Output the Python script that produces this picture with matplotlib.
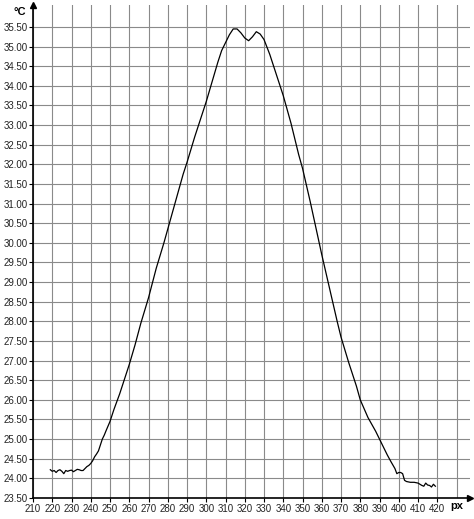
import matplotlib
matplotlib.use("Agg")
import matplotlib.pyplot as plt
import numpy as np

px = [219,220,221,222,223,224,225,226,227,228,229,230,231,232,233,234,235,236,237,238,239,240,241,242,243,244,245,246,247,248,250,252,255,258,260,263,266,270,274,278,280,284,288,290,294,298,300,303,306,308,310,312,314,316,318,320,322,324,326,328,330,333,336,340,344,348,350,354,358,360,364,368,370,374,378,380,384,388,390,392,394,396,398,399,400,401,402,403,404,406,408,410,411,412,413,414,415,416,417,418,419]
temp = [24.22,24.18,24.2,24.15,24.2,24.22,24.18,24.12,24.2,24.18,24.2,24.21,24.17,24.2,24.23,24.22,24.2,24.2,24.25,24.3,24.33,24.38,24.45,24.55,24.62,24.7,24.85,25.0,25.1,25.22,25.45,25.75,26.15,26.6,26.9,27.4,27.95,28.6,29.35,30.0,30.35,31.05,31.75,32.05,32.7,33.3,33.6,34.1,34.6,34.9,35.1,35.3,35.45,35.45,35.35,35.22,35.15,35.25,35.38,35.32,35.18,34.8,34.35,33.75,33.05,32.25,31.9,31.05,30.15,29.7,28.85,28.0,27.6,26.95,26.35,26.0,25.55,25.2,25.0,24.8,24.6,24.42,24.25,24.12,24.15,24.15,24.12,23.95,23.92,23.9,23.9,23.88,23.85,23.82,23.8,23.88,23.83,23.82,23.78,23.85,23.8]

xticks = list(range(210, 421, 10))
yticks = [23.5 + 0.5*i for i in range(25)]

fig = plt.figure(figsize=(4.74, 5.19), dpi=100)
ax = fig.add_axes([33/474, 21/519, 437/474, 493/519])
ax.plot(px, temp, color="black", lw=0.9, zorder=3)
ax.set_xlim(210, 437)
ax.set_ylim(23.5, 36.06)
ax.set_xticks(xticks)
ax.set_xticks(xticks + [430], minor=True)
ax.set_yticks(yticks)
ax.set_xticklabels([str(v) for v in xticks], fontsize=7, family="Liberation Sans", color="#222222")
ax.set_yticklabels([f"{v:.2f}" for v in yticks], fontsize=7, family="Liberation Sans", color="#222222")
ax.grid(True, which="both", color="#8a8a8a", lw=0.8)
ax.tick_params(length=3, width=0.8, pad=1, which="both")
ax.tick_params(which="minor", length=0)
for s in ["top", "right"]:
    ax.spines[s].set_visible(False)
for s in ["left", "bottom"]:
    ax.spines[s].set_linewidth(1.2)
ax.plot(1, 0, ">k", transform=ax.transAxes, clip_on=False, ms=4)
ax.plot(0, 1, "^k", transform=ax.transAxes, clip_on=False, ms=4)
ax.text(430, 23.42, "px", fontsize=8, weight="bold", family="Liberation Sans",
        ha="center", va="top")
fig.text(13/474, 1-12/519, "°C", fontsize=8, weight="bold", family="Liberation Sans", ha="left", va="center")
fig.savefig("out.png", dpi=100)
